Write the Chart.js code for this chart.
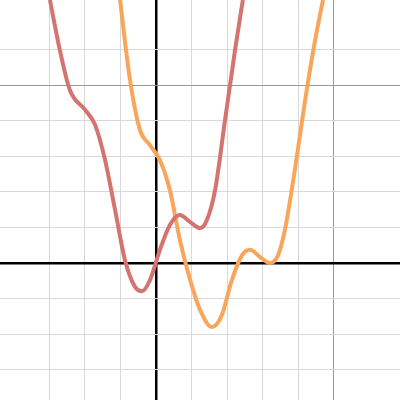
<!DOCTYPE html>
<html><head><meta charset="utf-8">
<script src="https://cdn.jsdelivr.net/npm/chart.js@4"></script>
<style>html,body{margin:0;padding:0;background:#fff}#w{width:400px;height:400px}</style>
</head><body><div id="w"><canvas id="c"></canvas></div>
<script>
const redX=[-2.98,-2.70,-2.42,-1.99,-1.71,-1.43,-1.15,-0.87,-0.59,-0.39,-0.17,0.11,0.39,0.67,0.96,1.24,1.43,1.66,1.94,2.22,2.44];
const redY=[7.39,5.98,4.86,4.30,3.88,2.89,1.49,0.08,-0.67,-0.79,-0.48,0.37,1.07,1.35,1.15,0.98,1.21,2.05,4.02,5.98,7.39];
const orX=[-1.01,-0.73,-0.45,-0.17,0.11,0.39,0.67,0.96,1.24,1.57,1.85,2.13,2.42,2.64,2.92,3.20,3.43,3.62,3.90,4.19,4.47,4.69];
const orY=[7.39,5.14,3.74,3.31,2.89,2.05,0.65,-0.48,-1.32,-1.80,-1.46,-0.48,0.22,0.37,0.17,0.00,0.22,0.93,2.61,4.58,6.26,7.39];
const pts=(xs,ys)=>xs.map((x,i)=>({x,y:ys[i]}));
function gc(ctx){const v=ctx.tick.value;if(Math.abs(v-Math.round(v))>1e-6)return 'rgba(0,0,0,0)';if(Math.round(v)===0)return '#000';if(Math.round(v)%5===0)return '#999';return '#d8d8d8';}
function gw(ctx){const v=ctx.tick.value;return Math.abs(v)<1e-6?2.5:1;}
const ax=(min,max)=>({type:'linear',min,max,ticks:{display:false,stepSize:1},border:{display:false},grid:{color:gc,lineWidth:gw,drawTicks:false}});
new Chart(document.getElementById('c'),{type:'scatter',
data:{datasets:[
{data:pts(redX,redY),showLine:true,borderColor:'#d4736f',borderWidth:4,pointRadius:0,cubicInterpolationMode:'monotone'},
{data:pts(orX,orY),showLine:true,borderColor:'#f9a55a',borderWidth:4,pointRadius:0,cubicInterpolationMode:'monotone'}]},
options:{responsive:true,maintainAspectRatio:false,animation:false,layout:{padding:0},
plugins:{legend:{display:false},tooltip:{enabled:false}},
scales:{x:ax(-4.382,6.854),y:ax(-3.848,7.388)}}});
</script></body></html>
